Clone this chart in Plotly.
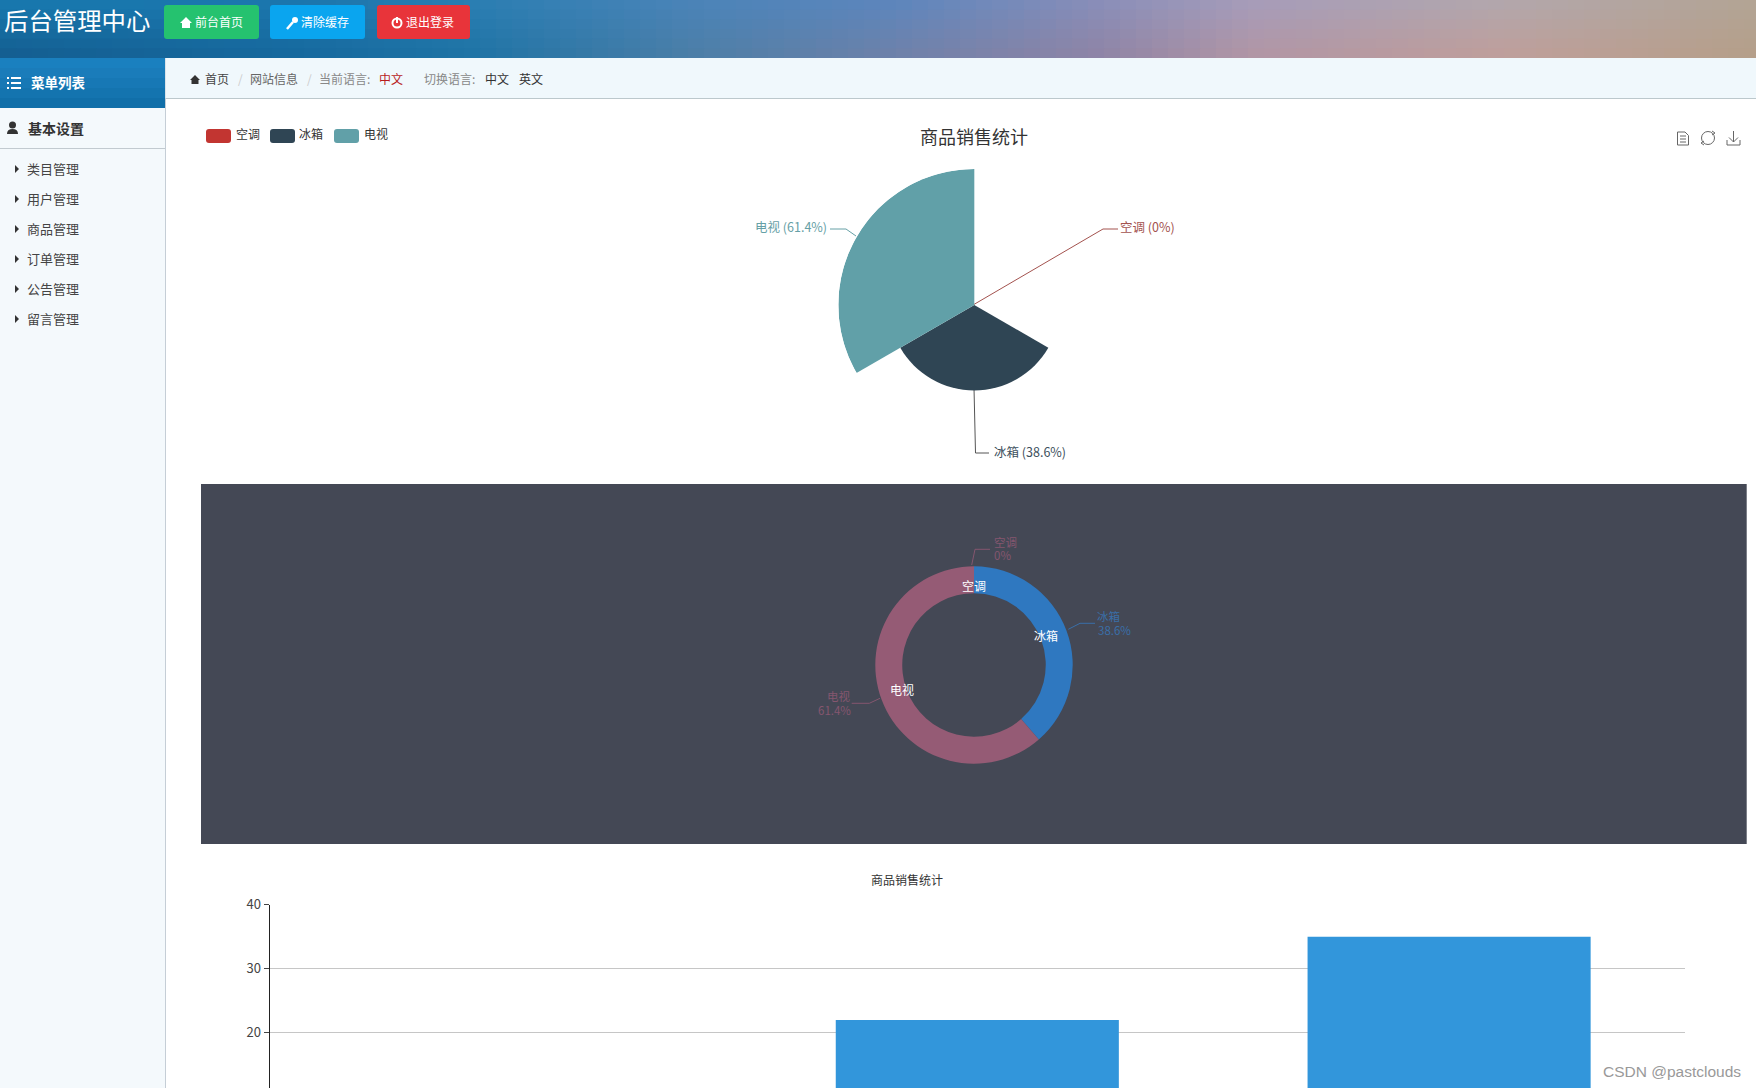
import numpy as np
import plotly.graph_objects as go

FONT = "Noto Sans CJK SC"
W, H = 1756, 1088

categories = ['空调', '冰箱', '电视']
sales = [0, 22, 35]
percents = [round(v / sum(sales) * 100, 1) for v in sales]
percent_labels = [('%.1f' % p).replace('.0', '') + '%' for p in percents]
y_ticks = [20, 30, 40]

menu_items = ['类目管理', '用户管理', '商品管理', '订单管理', '公告管理', '留言管理']
chart_title = '商品销售统计'

rose_colors = ['#c23531', '#2f4554', '#61a0a8']
rose_text = ['#a3524e', '#3d4f5c', '#66a0a6']
donut_colors = ['#8f5a72', '#2f78c0', '#955b75']
donut_text = ['#85566f', '#3a6fa8', '#85566f']

shapes = []
notes = []


def rect(x0, y0, x1, y1, color, line=None):
    shapes.append(dict(type='rect', xref='x3', yref='y3', x0=x0, y0=y0, x1=x1, y1=y1,
                       fillcolor=color, line=dict(width=0 if line is None else 1, color=line),
                       layer='below'))


def round_rect(x0, y0, x1, y1, color, r=3):
    p = (f'M{x0+r},{y0} L{x1-r},{y0} Q{x1},{y0} {x1},{y0+r} L{x1},{y1-r} Q{x1},{y1} {x1-r},{y1} '
         f'L{x0+r},{y1} Q{x0},{y1} {x0},{y1-r} L{x0},{y0+r} Q{x0},{y0} {x0+r},{y0} Z')
    path(p, fill=color)


def path(p, fill=None, line=None, width=1):
    shapes.append(dict(type='path', xref='x3', yref='y3', path=p,
                       fillcolor=fill if fill else 'rgba(0,0,0,0)',
                       line=dict(width=width if line else 0, color=line or 'rgba(0,0,0,0)'),
                       layer='below'))


def circle(x, y, r, fill=None, line=None, width=1):
    shapes.append(dict(type='circle', xref='x3', yref='y3', x0=x - r, y0=y - r, x1=x + r, y1=y + r,
                       fillcolor=fill if fill else 'rgba(0,0,0,0)',
                       line=dict(width=width if line else 0, color=line or 'rgba(0,0,0,0)'),
                       layer='below'))


def text(x, y, s, size=13, color='#333', anchor='left', bold=False, family=FONT):
    # the CJK font sits about a pixel low in its line box
    notes.append(dict(xref='x3', yref='y3', x=x, y=y - 1, text=f'<b>{s}</b>' if bold else s,
                      showarrow=False, xanchor=anchor, yanchor='middle',
                      font=dict(size=size, color=color, family=family), borderpad=0, borderwidth=0))


# top banner gradient, small cells since shapes have no gradient fill
stops = [0, 300, 470, 700, 900, 1100, 1250, 1500, 1756]
top_row = ['#1878ae', '#1c76ad', '#2a7eb2', '#4c84b8', '#5f86bc', '#8a8eb8', '#a79cb9', '#b3a7ac', '#b3a494']
bot_row = ['#145f92', '#176a9f', '#1f74a6', '#4d7fa8', '#6f82ab', '#8f85a7', '#b196a6', '#bf9f9c', '#b5a08a']


def rgb(h):
    return [int(h[i:i + 2], 16) for i in (1, 3, 5)]


top_rgb = np.array([rgb(c) for c in top_row])
bot_rgb = np.array([rgb(c) for c in bot_row])
# each cell runs on to the bottom of the banner so no seams show between rows
for row in range(6):
    t = row / 5
    y0 = row * 58 / 6
    for cx in range(0, W, 16):
        c = [np.interp(cx + 8, stops, top_rgb[:, k]) * (1 - t) + np.interp(cx + 8, stops, bot_rgb[:, k]) * t
             for k in range(3)]
        rect(cx, y0, cx + 17 if cx + 16 < W else W, 58, 'rgb(%d,%d,%d)' % tuple(c))

text(4, 20.5, '后台管理中心', size=24.4, color='white')

# buttons
round_rect(164, 5, 259, 39, '#25c26f')
round_rect(270, 5, 365, 39, '#0aa5ef')
round_rect(377, 5, 470, 39, '#e8343a')
path('M180,23 L186,17 L192,23 L190,23 L190,28 L182,28 L182,23 Z', fill='white')
path('M287,29 L293,22', line='white', width=2.5)
circle(295, 20, 3, fill='white')
circle(397, 23, 4.5, line='white', width=2)
path('M397,17 L397,23', line='white', width=2)
text(195, 22.5, '前台首页', size=12, color='white')
text(301, 22.5, '清除缓存', size=12, color='white')
text(406, 22.5, '退出登录', size=12, color='white')

# sidebar
rect(0, 58, 165, 1088, '#f4f9fc')
path('M165.5,58 L165.5,1088', line='#c5ced6')
for i in range(5):
    rect(0, 58 + i * 10, 165, 108, ['#1a80bf', '#1a7cba', '#1778b5', '#1474af', '#116fa9'][i])
for yy in (78, 83, 88):
    rect(7, yy - 1, 9, yy + 1, 'white')
    rect(11, yy - 1, 21, yy + 1, 'white')
text(31, 83, '菜单列表', size=13.5, color='white', bold=True)
circle(12.5, 125, 3.5, fill='#333')
path('M7,134 Q7,129 12.5,129 Q18,129 18,134 Z', fill='#333')
text(28, 129, '基本设置', size=14, color='#333', bold=True)
path('M0,148.5 L165,148.5', line='#c2cad0')
for i, item in enumerate(menu_items):
    yy = 169 + i * 30
    path(f'M15,{yy-4} L19,{yy} L15,{yy+4} Z', fill='#333')
    text(27, yy, item, size=13, color='#444')

# breadcrumb bar
rect(165.5, 58, W, 98, '#f0f8fc')
path(f'M166,98.5 L{W},98.5', line='#bcc8cc')
path('M190,80 L195,75 L200,80 L198.5,80 L198.5,84 L191.5,84 L191.5,80 Z', fill='#333')
crumbs = [(205, '首页', '#444'), (238, '/', '#ccc'), (249.5, '网站信息', '#666'), (307, '/', '#ccc'),
          (318.5, '当前语言:', '#888'), (379, '中文', '#b81c1c'), (424, '切换语言:', '#888'),
          (484.5, '中文', '#333'), (518.5, '英文', '#333')]
for cx, s, col in crumbs:
    text(cx, 79, s, size=12, color=col)

# rose chart legend and title
for i, (x0, x1, tx) in enumerate([(206, 231, 236), (270, 295, 299), (334, 359, 363.5)]):
    round_rect(x0, 129, x1, 143, rose_colors[i])
    text(tx, 134, categories[i], size=12, color='#333')
text(973.5, 137, chart_title, size=18, color='#333', anchor='center')

# toolbox icons
tool = '#666'
path('M1677.5,132 L1685,132 L1688.5,135.5 L1688.5,145 L1677.5,145 Z', line=tool)
path('M1680,136 L1686,136 M1680,139 L1686,139 M1680,142 L1686,142', line=tool)
circle(1708, 138, 6.5, line=tool)
path('M1712,131 L1715,133 L1712,135 M1704,141 L1701,143 L1704,145', line=tool)
path('M1733.5,131 L1733.5,142 M1729,137.5 L1733.5,142 L1738,137.5 M1727,140 L1727,145 L1740,145 L1740,140', line=tool)

# rose chart leader lines and labels
path('M973,305 L1103,229 L1118,229', line=rose_text[0])
path('M974,388 L975.5,453 L989,453', line='#555')
path('M856,236 L846,229 L830,229', line=rose_text[2])
text(1120, 227.5, f'{categories[0]} ({percent_labels[0]})', size=12.5, color=rose_text[0])
text(993.5, 452.5, f'{categories[1]} ({percent_labels[1]})', size=12.5, color=rose_text[1])
text(827, 227.5, f'{categories[2]} ({percent_labels[2]})', size=12.5, color=rose_text[2], anchor='right')

# dark panel behind the donut
rect(201, 484, 1746.7, 844, '#444855')
path('M971.7,565 L975,549.3 L990,549.3', line=donut_text[0])
path('M1068.3,629.3 L1080,623.3 L1095,623.3', line=donut_text[1])
path('M880,698.3 L869.3,703.3 L851.7,703.3', line=donut_text[2])
for (cx, cy, px, py), cat, pct, col in zip([(1005, 543, 1002.5, 556), (1108, 617, 1114, 631), (839, 697, 834, 711)],
                                           categories, percent_labels, donut_text):
    text(cx, cy, cat, size=11.5, color=col, anchor='center')
    text(px, py, pct, size=11.5, color=col, anchor='center')
for (cx, cy), cat in zip([(974, 586), (1046, 636), (902, 690)], categories):
    text(cx, cy, cat, size=12, color='white', anchor='center')

# bar chart title and watermark
text(907, 880, chart_title, size=12, color='#333', anchor='center')
text(1741, 1072, 'CSDN @pastclouds', size=15.5, color='#999', anchor='right', family='Liberation Sans')


def dom_x(x0, x1):
    return [x0 / W, x1 / W]


def dom_y(y0, y1):
    return [(H - y1) / H, (H - y0) / H]


fig = go.Figure()
fig.add_trace(go.Scatter(x=[], y=[], xaxis='x3', yaxis='y3', showlegend=False, hoverinfo='skip'))
fig.add_trace(go.Bar(x=categories, y=sales, marker=dict(color='#3296db', line=dict(width=0)), width=0.6,
                     showlegend=False))
fig.add_trace(go.Barpolar(r=sales, theta=[60, 180, 300], width=[120, 120, 120], subplot='polar',
                          marker=dict(color=rose_colors, line=dict(width=0)), showlegend=False))
fig.add_trace(go.Pie(labels=categories, values=sales, hole=0.727, sort=False, direction='clockwise', rotation=0,
                     textinfo='none', marker=dict(colors=donut_colors, line=dict(width=0)), showlegend=False,
                     domain=dict(x=dom_x(974 - 98.7, 974 + 98.7), y=dom_y(665 - 98.7, 665 + 98.7))))

# value scale of the bar chart: the page cuts it off below 20
top_px = 904.7
px_per_unit = (1032.8 - top_px) / 20
y_bottom = 20 - (H - 1032.8) / px_per_unit

fig.update_layout(
    template='none',
    width=W, height=H, margin=dict(l=0, r=0, t=0, b=0, pad=0), autosize=False,
    paper_bgcolor='white', plot_bgcolor='rgba(0,0,0,0)', font=dict(family=FONT), bargap=0.4,
    shapes=shapes, annotations=notes, showlegend=False,
    xaxis=dict(domain=dom_x(269.6, 1685), range=[-0.5, 2.5], showticklabels=False, showgrid=False, zeroline=False,
               ticks='', showline=False, automargin=False),
    yaxis=dict(domain=dom_y(top_px, H), range=[y_bottom, 40], tickvals=y_ticks, showgrid=True, gridcolor='#c6c6c6',
               gridwidth=1, zeroline=False, showline=True, linecolor='#222', linewidth=1, ticks='outside',
               ticklen=5, tickcolor='#444', tickfont=dict(size=13, color='#444', family=FONT), automargin=False),
    xaxis3=dict(domain=[0, 1], range=[0, W], visible=False, fixedrange=True, automargin=False),
    yaxis3=dict(domain=[0, 1], range=[H, 0], visible=False, fixedrange=True, automargin=False),
    polar=dict(domain=dict(x=dom_x(974.3 - 136, 974.3 + 136), y=dom_y(305 - 136, 305 + 136)),
               bgcolor='rgba(0,0,0,0)',
               radialaxis=dict(range=[0, 35], visible=False),
               angularaxis=dict(rotation=90, direction='clockwise', visible=False)),
)

fig.write_html("out.html", config=dict(displayModeBar=False), post_script="document.body.style.margin='0';")
